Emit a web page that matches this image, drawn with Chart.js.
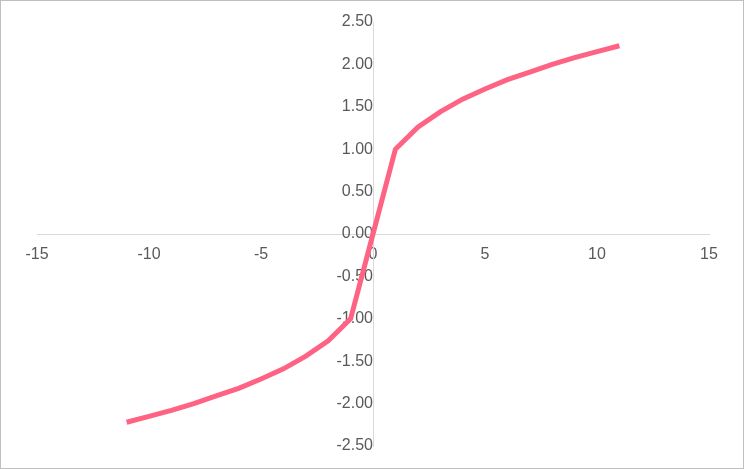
<!DOCTYPE html>
<html>
<head>
<meta charset="utf-8">
<script src="https://cdn.jsdelivr.net/npm/chart.js@4"></script>
<style>
  body { margin: 0; background: #fff; }
  #wrap { width: 742px; height: 467px; border: 1px solid #bfbfbf; }
</style>
</head>
<body>
<div id="wrap"><canvas id="c"></canvas></div>
<script>
// Werte
const xValues = [-11, -10, -9, -8, -7, -6, -5, -4, -3, -2, -1, 0, 1, 2, 3, 4, 5, 6, 7, 8, 9, 10, 11];
const yValues = [-2.22, -2.15, -2.08, -2.00, -1.91, -1.82, -1.71, -1.59, -1.44, -1.26, -1.00, 0,
                 1.00, 1.26, 1.44, 1.59, 1.71, 1.82, 1.91, 2.00, 2.08, 2.15, 2.22];

const points = xValues.map(function(x, i) { return { x: x, y: yValues[i] }; });

new Chart(document.getElementById('c'), {
    type: 'line',
    data: {
        datasets: [{
            data: points,
            borderColor: '#ff6384',
            borderWidth: 5,
            pointRadius: 0,
            tension: 0,
            fill: false
        }]
    },
    options: {
        responsive: true,
        maintainAspectRatio: false,
        animation: false,
        plugins: { legend: { display: false }, tooltip: { enabled: false } },
        layout: { padding: { left: 36, right: 34, top: 21, bottom: 22 } },
        scales: {
            x: {
                type: 'linear',
                position: { y: 0 },
                min: -15, max: 15,
                ticks: { stepSize: 5, color: '#595959', font: { family: 'Liberation Sans', size: 16 } },
                grid: { display: false },
                border: { color: '#d9d9d9', width: 1 }
            },
            y: {
                type: 'linear',
                position: { x: 0 },
                min: -2.5, max: 2.5,
                ticks: {
                    stepSize: 0.5,
                    color: '#595959',
                    font: { family: 'Liberation Sans', size: 16 },
                    callback: function(v) { return v.toFixed(2); }
                },
                grid: { display: false },
                border: { color: '#d9d9d9', width: 1 }
            }
        }
    }
});
</script>
</body>
</html>
